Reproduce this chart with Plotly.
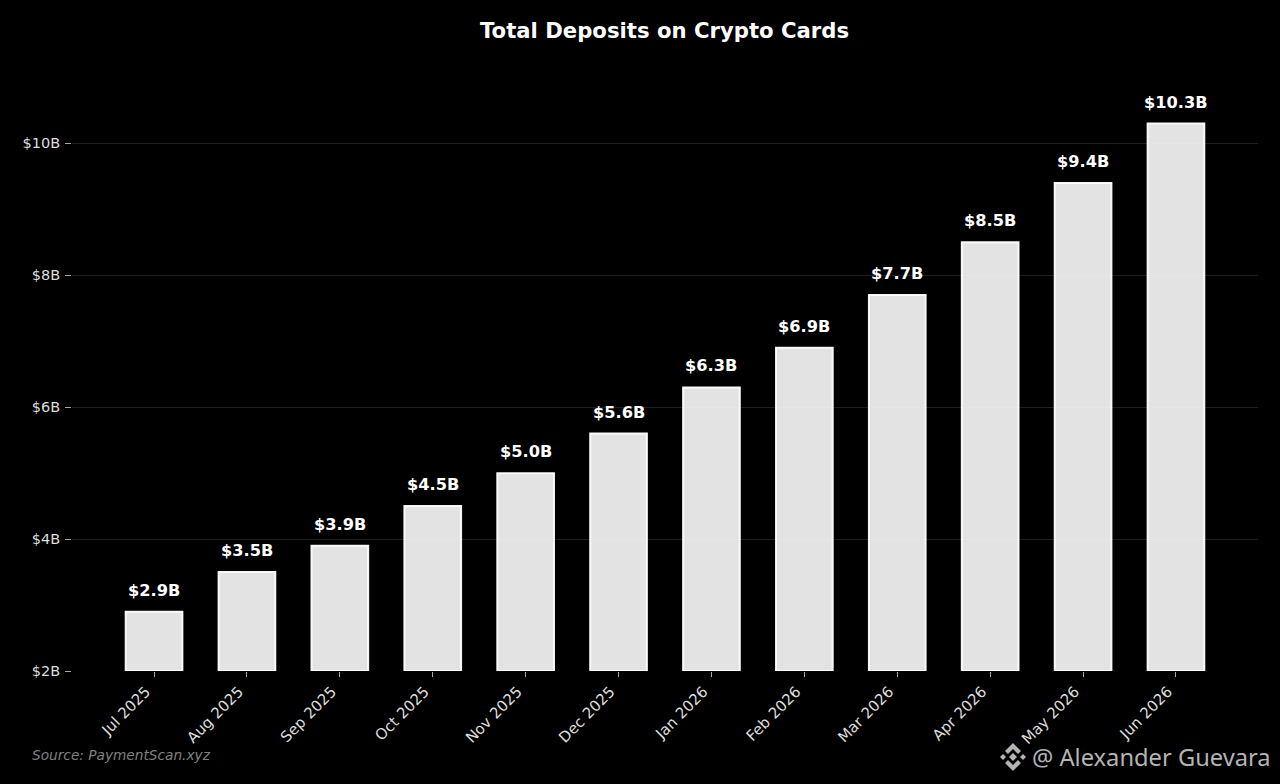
import plotly.graph_objects as go

# Monthly totals in $B
months = ['Jul 2025', 'Aug 2025', 'Sep 2025', 'Oct 2025', 'Nov 2025', 'Dec 2025',
          'Jan 2026', 'Feb 2026', 'Mar 2026', 'Apr 2026', 'May 2026', 'Jun 2026']
deposits = [2.9, 3.5, 3.9, 4.5, 5.0, 5.6, 6.3, 6.9, 7.7, 8.5, 9.4, 10.3]
bar_labels = ['$2.9B', '$3.5B', '$3.9B', '$4.5B', '$5.0B', '$5.6B',
              '$6.3B', '$6.9B', '$7.7B', '$8.5B', '$9.4B', '$10.3B']
y_ticks = [2, 4, 6, 8, 10]
y_tick_labels = ['$2B', '$4B', '$6B', '$8B', '$10B']

W, H = 1280, 784
L, R, T, B = 72, 22, 84, 113
FONT = 'DejaVu Sans'
base = 2

fig = go.Figure()
fig.add_trace(go.Bar(
    x=months,
    y=[v - base for v in deposits],
    base=base,
    width=0.61,
    marker=dict(color='rgba(255,255,255,0.89)',
                line=dict(color='rgba(255,255,255,0.95)', width=2)),
    cliponaxis=False,
    hoverinfo='skip',
))

# Value labels above the bars
for m, v, lab in zip(months, deposits, bar_labels):
    fig.add_annotation(x=m, y=v, text=f'<b>{lab}</b>', showarrow=False,
                       yanchor='bottom', yshift=10,
                       font=dict(family=FONT, size=16.2, color='white'))


def px(x, y):
    # pixel position on the page -> paper coordinates
    return (x - L) / (W - L - R), (H - B - y) / (H - T - B)


def poly(points):
    pts = [px(*p) for p in points]
    return 'M ' + ' L '.join(f'{a:.5f},{b:.5f}' for a, b in pts) + ' Z'


# Watermark logo: centre diamond, side diamonds and top/bottom chevrons
cx, cy = 1013, 757
logo = [
    [(cx, cy - 4), (cx + 4, cy), (cx, cy + 4), (cx - 4, cy)],
    [(cx - 10, cy - 3), (cx - 7, cy), (cx - 10, cy + 3), (cx - 13, cy)],
    [(cx + 10, cy - 3), (cx + 13, cy), (cx + 10, cy + 3), (cx + 7, cy)],
    [(cx, cy - 14), (cx + 8, cy - 6), (cx + 5, cy - 3), (cx, cy - 8), (cx - 5, cy - 3), (cx - 8, cy - 6)],
    [(cx, cy + 14), (cx + 8, cy + 6), (cx + 5, cy + 3), (cx, cy + 8), (cx - 5, cy + 3), (cx - 8, cy + 6)],
]
for d in logo:
    fig.add_shape(type='path', path=poly(d), xref='paper', yref='paper',
                  fillcolor='#b4b4b4', line_width=0, layer='above')

sx, sy = px(30, 755)
fig.add_annotation(text='<i>Source: PaymentScan.xyz</i>', xref='paper', yref='paper',
                   x=sx, y=sy, xanchor='left', yanchor='middle', showarrow=False,
                   font=dict(family=FONT, size=13.7, color='#808080'))
wx, wy = px(1030, 757)
fig.add_annotation(text='@ Alexander Guevara', xref='paper', yref='paper',
                   x=wx, y=wy, xanchor='left', yanchor='middle', showarrow=False,
                   font=dict(family='Noto Sans', size=23.7, color='#b4b4b4'))

fig.update_layout(
    width=W, height=H,
    margin=dict(l=L, r=R, t=T, b=B),
    paper_bgcolor='black', plot_bgcolor='black',
    showlegend=False,
    title=dict(text='<b>Total Deposits on Crypto Cards</b>', x=(480 + 849) / 2 / W,
               xanchor='center', y=1 - 31 / H, yanchor='middle',
               font=dict(family=FONT, size=21.2, color='white')),
    xaxis=dict(range=[-0.883, 11.883], tickangle=-45, ticks='outside', ticklen=5,
               tickwidth=1, tickcolor='#aaaaaa', showgrid=False, showline=False,
               zeroline=False, ticklabelshift=-8,
               tickfont=dict(family=FONT, size=15, color='#dddddd')),
    yaxis=dict(range=[base, 10.9], tickvals=y_ticks, ticktext=y_tick_labels,
               ticks='outside', ticklen=6, tickwidth=1, tickcolor='#aaaaaa',
               showgrid=True, gridcolor='#1f1f1f', gridwidth=1, showline=False,
               zeroline=False, ticklabelstandoff=2,
               tickfont=dict(family=FONT, size=14.5, color='#dddddd')),
)

# the page's default body margin would push the figure off the window
fig.write_html('out.html', config={'displayModeBar': False},
               post_script="document.body.style.margin='0';")
